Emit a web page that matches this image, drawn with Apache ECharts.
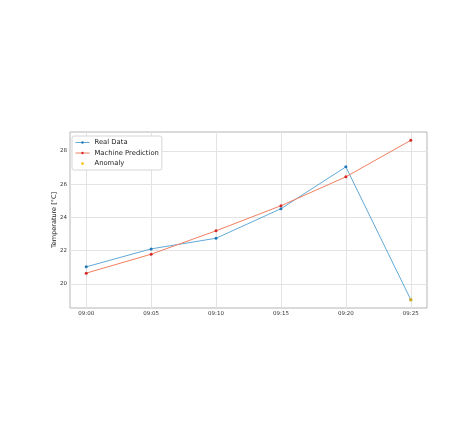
<!DOCTYPE html>
<html>
<head>
<meta charset="utf-8">
<script src="https://cdn.jsdelivr.net/npm/echarts@6/dist/echarts.min.js"></script>
<style>
	html, body { margin: 0; padding: 0; background: #fff; }
	#chart { width: 474px; height: 439px; }
</style>
</head>
<body>
<div id="chart"></div>
<script>
	// minutes after 09:00
	var minutes = [0, 5, 10, 15, 20, 25];
	var timeLabels = ["09:00", "09:05", "09:10", "09:15", "09:20", "09:25"];
	var realData = [21.02, 22.1, 22.74, 24.52, 27.04, 19.04];
	var prediction = [20.64, 21.78, 23.19, 24.7, 26.44, 28.64];
	var anomaly = [[25, 19.04]];
	var yTicks = [20, 22, 24, 26, 28];

	function pairs(xs, ys) {
		return xs.map(function(x, i) { return [x, ys[i]]; });
	}

	var chart = echarts.init(document.getElementById("chart"));

	var option = {
		backgroundColor: '#fff',
		animation: false,
		grid: {
			left: 70,
			right: 47,
			top: 132,
			bottom: 131,
			show: true,
			borderColor: '#b5b5b5',
			borderWidth: 1
		},
		legend: {
			orient: 'vertical',
			left: 72,
			top: 136,
			itemWidth: 14,
			itemHeight: 3,
			itemGap: 3.5,
			padding: [3, 3, 3, 3],
			borderColor: '#d6d6d6',
			borderWidth: 1,
			borderRadius: 2,
			backgroundColor: '#fff',
			lineStyle: { width: 1 },
			textStyle: { fontSize: 6.8, color: '#222', fontFamily: 'DejaVu Sans' },
			data: ['Real Data', 'Machine Prediction', 'Anomaly']
		},
		xAxis: {
			type: 'value',
			min: -1.25,
			max: 26.25,
			axisLine: { show: false },
			axisTick: { show: false, customValues: minutes },
			splitLine: { show: true, lineStyle: { color: '#e3e3e3', width: 1 } },
			axisLabel: {
				customValues: minutes,
				fontSize: 5.5,
				color: '#333',
				margin: 3,
				fontFamily: 'DejaVu Sans',
				formatter: function(v) {
					var i = minutes.indexOf(v);
					return i >= 0 ? timeLabels[i] : '';
				}
			}
		},
		yAxis: {
			type: 'value',
			min: 18.54,
			max: 29.14,
			name: 'Temperature [°C]',
			nameLocation: 'middle',
			nameGap: 12,
			nameMoveOverlap: false,
			nameTextStyle: { fontSize: 6.5, color: '#222', fontFamily: 'DejaVu Sans' },
			axisLine: { show: false },
			axisTick: { show: false, customValues: yTicks },
			splitLine: { show: true, lineStyle: { color: '#e3e3e3', width: 1 } },
			axisLabel: {
				customValues: yTicks,
				fontSize: 5.5,
				color: '#333',
				margin: 3,
				fontFamily: 'DejaVu Sans'
			}
		},
		series: [{
			name: 'Real Data',
			type: 'line',
			data: pairs(minutes, realData),
			symbol: 'circle',
			symbolSize: 3,
			lineStyle: { color: '#62a9d8', width: 1 },
			itemStyle: { color: '#1f77b4' },
			z: 2
		}, {
			name: 'Machine Prediction',
			type: 'line',
			data: pairs(minutes, prediction),
			symbol: 'circle',
			symbolSize: 3,
			lineStyle: { color: '#f08060', width: 1 },
			itemStyle: { color: '#d62728' },
			z: 3
		}, {
			name: 'Anomaly',
			type: 'scatter',
			data: anomaly,
			symbol: 'circle',
			symbolSize: 3.5,
			itemStyle: { color: '#f5b800' },
			z: 4
		}]
	};

	chart.setOption(option);
</script>
</body>
</html>
